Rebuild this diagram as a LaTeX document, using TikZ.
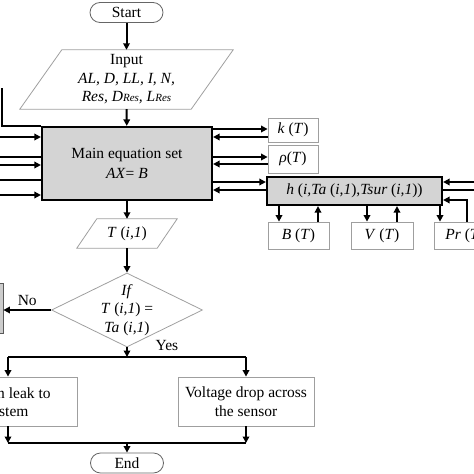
\documentclass[tikz,border=0pt]{standalone}
\usepackage{fontspec}
\setmainfont{Liberation Serif}
\usetikzlibrary{arrows.meta,positioning,calc,shapes.geometric}

\begin{document}
\begin{tikzpicture}[x=1pt, y=-1pt,
    every node/.style={font=\fontsize{15.5}{18.5}\selectfont, inner sep=0pt, align=center},
    term/.style={draw=gray!80!black, line width=0.8pt, rounded corners=10pt, minimum width=73pt, minimum height=20pt},
    plain/.style={draw=gray!75, line width=0.8pt, fill=white},
    calcbox/.style={draw=black, line width=2.2pt, fill=black!17},
    slant/.style={draw=gray!75, line width=0.8pt},
    decision/.style={draw=gray!75, line width=0.8pt, diamond},
    flow/.style={line width=2pt, -{Triangle[length=6.5pt,width=6.5pt]}},
    wire/.style={line width=2pt}]
    \useasboundingbox (0,0) rectangle (474,474);
    \clip (0,0) rectangle (474,474);

    % Start and input
    \node[term] (start) at (126.5,12.5) {Start};
    \node[minimum width=171pt, minimum height=59pt] (input) at (126.5,79.5)
        {Input\\ \textit{AL, D, LL, I, N,}\\ \textit{Res, D{\fontsize{11}{11}\selectfont Res}, L{\fontsize{11}{11}\selectfont Res}}};
    \draw[slant] ($(input.north west)+(21,0)$) -- ($(input.north east)+(21,0)$)
        -- ($(input.south east)+(-21,0)$) -- ($(input.south west)+(-21,0)$) -- cycle;

    % Main equation set
    \node[calcbox, minimum width=170pt, minimum height=73pt] (main) at (127,163.5)
        {Main equation set\\[2pt] \textit{AX}= \textit{B}};

    % Property boxes (right)
    \node[plain, minimum width=50pt, minimum height=24pt] (kT) at (293,130) {\textit{k} (\textit{T})};
    \node[plain, minimum width=50pt, minimum height=28pt] (rho) at (293,159) {\textit{ρ}(\textit{T})};
    \node[calcbox, minimum width=175pt, minimum height=28pt] (hbox) at (354.5,191)
        {\textit{h} (\textit{i,Ta} (\textit{i,1}),\textit{Tsur} (\textit{i,1}))};
    \node[plain, minimum width=61pt, minimum height=27pt] (BT) at (298.5,235.5) {\textit{B} (\textit{T})};
    \node[plain, minimum width=62pt, minimum height=27pt] (VT) at (382,235.5) {\textit{V} (\textit{T})};
    \node[plain, minimum width=62pt, minimum height=27pt] (PrT) at (465,235.5) {\textit{Pr} (\textit{T})};

    % Output and test
    \node[minimum width=80pt, minimum height=29pt] (Tout) at (127,233.5) {\textit{T} (\textit{i,1})};
    \draw[slant] ($(Tout.north west)+(10,0)$) -- ($(Tout.north east)+(10,0)$)
        -- ($(Tout.south east)+(-10,0)$) -- ($(Tout.south west)+(-10,0)$) -- cycle;
    \node[decision, minimum width=151pt, minimum height=74pt] (dec) at (127,310) {};
    \node at (dec) {\textit{If}\\ \textit{T} (\textit{i,1}) =\\ \textit{Ta} (\textit{i,1})};
    \node[draw=gray!70!black, line width=0.8pt, fill=black!20, minimum width=66pt, minimum height=50pt] (nobox) at (-30,308) {};

    % Last row
    \node[plain, minimum width=138pt, minimum height=49pt] (leak) at (8,401.5) {};
    \node[anchor=base west] at (-3,398) {n leak to};
    \node[anchor=base west] at (-1,416.5) {stem};
    \node[plain, minimum width=136pt, minimum height=49pt] (volt) at (246,401.5) {Voltage drop across\\ the sensor};
    \node[term] (end) at (127,463) {End};

    % Main flow
    \draw[flow] (start) -- (start |- input.north);
    \draw[flow] (input) -- (main);
    \draw[flow] (main) -- (Tout);
    \draw[flow] (Tout) -- (dec);
    \draw[wire] (1.5,88) |- (main.north west);

    % Left side of main box
    \foreach \yy in {137,165,195}
        \draw[flow] (0,\yy) -- (main.west |- 0,\yy);
    \foreach \yy in {157,180}
        \draw[wire] (main.west |- 0,\yy) -- (0,\yy);

    % Main box <-> properties
    \draw[flow] (main.east |- 0,129) -- (kT.west |- 0,129);
    \draw[flow] (kT.west |- 0,137) -- (main.east |- 0,137);
    \draw[flow] (main.east |- 0,157) -- (rho.west |- 0,157);
    \draw[flow] (rho.west |- 0,164) -- (main.east |- 0,164);
    \draw[flow] (main.east |- 0,182) -- (hbox.west |- 0,182);
    \draw[flow] (hbox.west |- 0,190) -- (main.east |- 0,190);

    % h box <-> B, V, Pr
    \draw[flow] (279,0 |- hbox.south) -- (279,0 |- BT.north);
    \draw[flow] (318,0 |- BT.north) -- (318,0 |- hbox.south);
    \draw[flow] (367,0 |- hbox.south) -- (367,0 |- VT.north);
    \draw[flow] (397,0 |- VT.north) -- (397,0 |- hbox.south);
    \draw[flow] (440,0 |- hbox.south) -- (440,0 |- PrT.north);
    \draw[flow] (467,0 |- PrT.north) |- (hbox.east |- 0,200);
    \draw[flow] (474,182) -- (hbox.east |- 0,182);
    \draw[wire] (hbox.east |- 0,190) -- (474,190);

    % Decision branches
    \draw[flow] (dec.west) -- node[above=3pt] {No} (nobox.east |- dec.west);
    \node (yes) at (167,345) {Yes};
    \coordinate (split) at (127,357);
    \coordinate (merge) at (127,443);
    \draw[flow] (dec.south) -- (split);
    \draw[wire] (leak.north |- split) -- (volt.north |- split);
    \draw[flow] (leak.north |- split) -- (leak.north);
    \draw[flow] (volt.north |- split) -- (volt.north);
    \draw[flow] (leak.south) -- (leak.south |- merge);
    \draw[flow] (volt.south) -- (volt.south |- merge);
    \draw[wire] (leak.south |- merge) -- (volt.south |- merge);
    \draw[flow] (merge) -- (end);
\end{tikzpicture}
\end{document}
